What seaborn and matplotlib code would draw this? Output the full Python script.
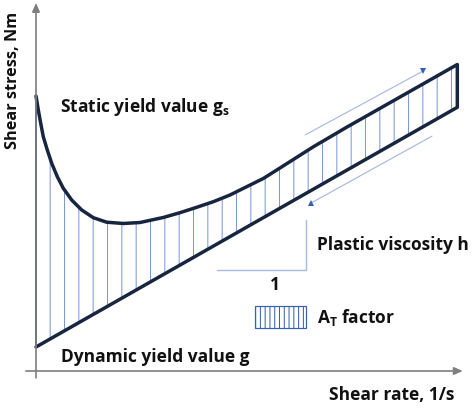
import matplotlib
matplotlib.use("Agg")
import matplotlib.pyplot as plt
import seaborn as sns
from matplotlib.patches import Rectangle

# ---- data (schematic units: shear rate 0..10, shear stress 0..~10) ----
shear_up = [0.0, 0.055, 0.112, 0.173, 0.268, 0.373, 0.506, 0.648, 0.847,
            1.085, 1.361, 1.678, 2.072, 2.469, 3.02, 3.418, 3.814, 4.208,
            4.605, 5.001, 5.395, 5.791, 6.575, 7.382, 8.64, 10.0]
stress_up = [9.167, 8.70, 8.257, 7.81, 7.367, 6.923, 6.477, 6.09, 5.70,
             5.367, 5.11, 4.96, 4.917, 4.95, 5.117, 5.277, 5.457, 5.643,
             5.867, 6.143, 6.417, 6.767, 7.467, 8.133, 9.133, 10.217]
shear_down = [0.0, 10.0]
stress_down = [0.80, 8.79]

arrow_up = [(6.39, 7.87), (9.19, 10.0)]
arrow_down = [(9.40, 7.83), (6.53, 5.60)]
arrow_head_marker = ["v", "^"]
slope_x = [4.30, 6.42, 6.42]
slope_y = [3.37, 3.37, 5.03]

label_static = "Static yield value g$_\\mathbf{s}$"
label_dynamic = "Dynamic yield value g"
label_plastic = "Plastic viscosity h"
label_one = "1"
label_factor = "A$_\\mathbf{T}$ factor"
xlabel = "Shear rate, 1/s"
ylabel = "Shear stress, Nm"

# ---- style ----
sns.set_theme(style="white")
plt.rcParams["font.family"] = ["Open Sans", "DejaVu Sans"]
plt.rcParams["mathtext.fontset"] = "custom"
plt.rcParams["mathtext.rm"] = "Open Sans"
plt.rcParams["mathtext.bf"] = "Open Sans:bold"
plt.rcParams["hatch.linewidth"] = 0.85

NAVY = "#17253f"
EDGE_BLUE = "#2b4c9b"
HATCH = "#7b98d8"
LIGHT = "#a9bbe2"
HEAD = "#2f5fc0"
GRAY = "#7f7f7f"
TXT = "#111111"

DPI = 86
fig = plt.figure(figsize=(474 / DPI, 408 / DPI), dpi=DPI)
ax = fig.add_axes([0, 0, 1, 1])
ax.set_xlim(-0.8545, 10.396)
ax.set_ylim(-1.2333, 12.3667)
ax.axis("off")

# axes arrows
ax.annotate("", xy=(0, 12.27), xytext=(0, -0.23),
            arrowprops=dict(arrowstyle="-|>,head_length=0.5,head_width=0.22",
                            color=GRAY, lw=1.4, shrinkA=0, shrinkB=0))
ax.annotate("", xy=(10.13, 0), xytext=(-0.24, 0),
            arrowprops=dict(arrowstyle="-|>,head_length=0.5,head_width=0.22",
                            color=GRAY, lw=1.4, shrinkA=0, shrinkB=0))

# hysteresis loop
loop_x = shear_up + shear_down[::-1]
loop_y = stress_up + stress_down[::-1]
ax.fill(loop_x, loop_y, facecolor="none", edgecolor=HATCH, hatch="|", lw=0)
ax.plot([shear_down[0], shear_up[0]], [stress_down[0], stress_up[0]],
        color=EDGE_BLUE, lw=1.6, solid_capstyle="butt")
sns.lineplot(x=loop_x, y=loop_y, sort=False, estimator=None, color=NAVY,
             lw=2.9, ax=ax)
for line in ax.lines:
    line.set_solid_joinstyle("round")

# flow direction arrows
for ((x0, y0), (x1, y1)), mk in zip((arrow_up, arrow_down), arrow_head_marker):
    ax.plot([x0, x1], [y0, y1], color=LIGHT, lw=1.0)
    ax.plot([x1], [y1], marker=mk, color=HEAD, ms=4.5, mew=0)

# slope triangle
ax.plot(slope_x, slope_y, color=LIGHT, lw=1.2)

# legend patch
ax.add_patch(Rectangle((5.20, 1.43), 1.21, 0.74, facecolor="white",
                       edgecolor="#3a5fb0", hatch="|||", lw=1.0))

fs = 14.5
kw = dict(fontsize=fs, fontweight="bold", color=TXT, va="center")
ax.text(0.57, 8.80, label_static, ha="left", **kw)
ax.text(0.59, 0.47, label_dynamic, ha="left", **kw)
ax.text(6.67, 4.20, label_plastic, ha="left", **kw)
ax.text(5.67, 2.87, label_one, ha="center", **kw)
ax.text(6.67, 1.80, label_factor, ha="left", **kw)
ax.text(9.94, -0.80, xlabel, ha="right", **kw)
ax.text(-0.55, 9.67, ylabel, ha="center", rotation=90,
        **{**kw, "fontsize": 13.6})

fig.savefig("out.png", dpi=DPI)
